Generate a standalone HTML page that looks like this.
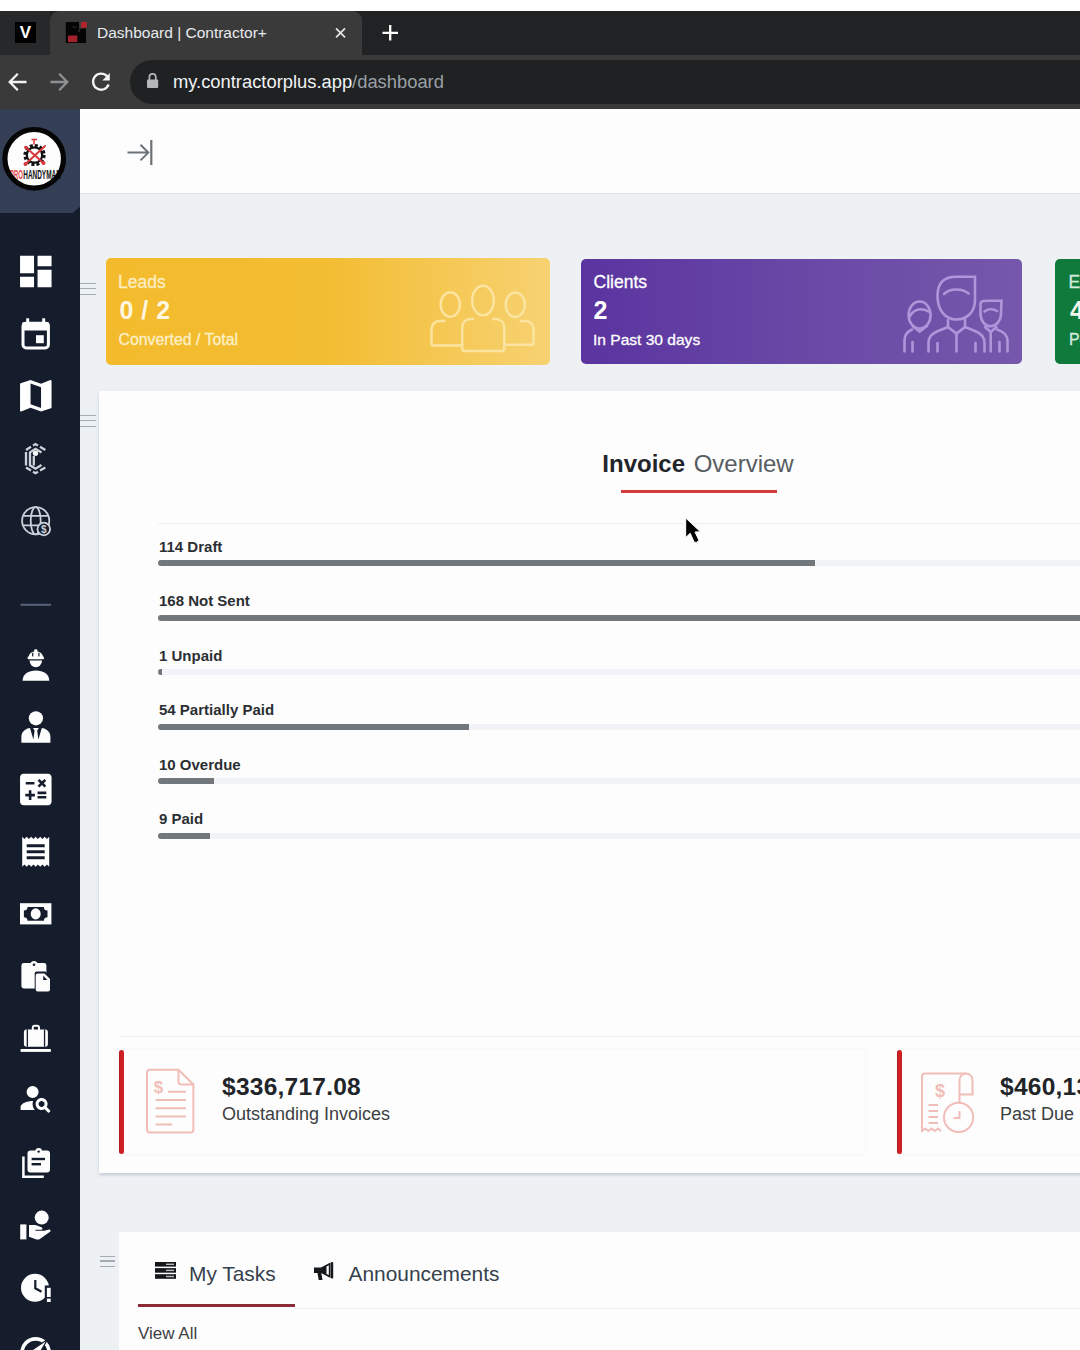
<!DOCTYPE html>
<html>
<head>
<meta charset="utf-8">
<title>Dashboard | Contractor+</title>
<style>
*{box-sizing:border-box;margin:0;padding:0}
html,body{width:1080px;height:1350px;overflow:hidden;background:#fff;font-family:"Liberation Sans",sans-serif;}
#root{position:relative;width:1080px;height:1350px;overflow:hidden;background:#fff}
.abs{position:absolute}
/* browser chrome */
#tabbar{left:0;top:10.500px;width:1080px;height:44.500px;background:#202223}
#vtab{left:0;top:10.500px;width:50px;height:44.500px;background:#27282a}
#vbox{left:15px;top:22px;width:21px;height:21px;background:#000;color:#fff;font-weight:bold;font-size:17px;line-height:21px;text-align:center}
#tab{left:50px;top:11px;width:312px;height:44px;background:#3a3a3b;border-radius:9px 9px 0 0}
#toolbar{left:0;top:55px;width:1080px;height:54.500px;background:#3a3a3b}
#omni{left:130px;top:60px;width:1000px;height:44px;background:#1f2122;border-radius:22px}
#tabtitle{left:97px;top:21.500px;font-size:15.5px;line-height:21px;color:#e8eaed;white-space:nowrap}
#url{left:173px;top:70px;font-size:18.350px;line-height:24px;color:#f1f3f4;white-space:nowrap}
#url span{color:#9aa0a6}
/* app */
#side{left:0;top:109px;width:80px;height:1241px;background:#151d2d}
#logoblk{left:0;top:109px;width:80px;height:104px;background:#343f56;clip-path:polygon(0 0,100% 0,100% 94%,91% 100%,0 100%)}
#header{left:80px;top:109px;width:1000px;height:85px;background:#fdfdfd;border-bottom:1px solid #dfe5ea}
#content{left:80px;top:194px;width:1000px;height:1156px;background:#eef1f4}
.card{border-radius:5px;color:#fff}
#leads div{margin-top:.700px}#leads .ct{color:#fdeec2}#leads .cn{color:#fff7e0}#leads .cs{color:#fdf0c8}
#leads{left:106px;top:258.300px;width:443.500px;height:106.400px;background:linear-gradient(90deg,#f3bb2c 0%,#f3bd33 50%,#f7d272 100%)}
#clients{left:581px;top:259px;width:441px;height:105px;background:linear-gradient(90deg,#5b34a0 0%,#6a4aa6 55%,#7558ab 100%)}
#green{left:1055px;top:259px;width:60px;height:104.500px;background:#0f7a3b}
#green div{margin-left:1.500px}#green .ct,#green .cs{color:#d4ecdf}#green .cn{color:#f3f6ea}
.ct,.cs{-webkit-text-stroke:.3px currentColor}
.ct{position:absolute;left:12px;top:13px;font-size:17.5px;line-height:20px;white-space:nowrap}
.cn{position:absolute;left:13.500px;top:37px;font-size:25px;word-spacing:1px;line-height:28px;font-weight:bold;white-space:nowrap}
.cs{position:absolute;left:12.500px;top:72px;font-size:15.850px;line-height:18px;white-space:nowrap}
#panel{left:98.500px;top:390.700px;width:1000px;height:782.300px;background:#fdfdfd;box-shadow:0 2px 3px rgba(150,150,175,.45)}
#ptitle{left:602.300px;top:448px;font-size:24px;word-spacing:2px;line-height:32px;color:#575c62;white-space:nowrap}
#ptitle b{color:#212529}
#pline{left:621px;top:490px;width:156px;height:3px;background:#d63a3d}
.lbl{position:absolute;left:159px;font-size:15px;line-height:18px;font-weight:bold;color:#2b2f33;white-space:nowrap}
.track{position:absolute;left:158px;width:940px;height:6px;background:#f1f3f6;border-radius:3px}
.bar{position:absolute;left:158px;height:6px;background:#72777c;border-radius:3px 0 0 3px}
.stat{background:#fdfdfd;border-radius:4px;box-shadow:0 0 3px rgba(150,160,175,.18)}
.stat:before{content:"";position:absolute;left:-.500px;top:0;width:5.500px;height:100%;border-radius:3px;background:linear-gradient(90deg,#a81e22 0,#cf2023 35%,#cf2023 100%)}
.amt{position:absolute;letter-spacing:.25px;font-size:24.5px;line-height:28px;font-weight:bold;color:#212529;white-space:nowrap}
.sub{position:absolute;font-size:18px;line-height:20px;color:#3c4043;white-space:nowrap}
#tasks{left:119px;top:1232px;width:1000px;height:130px;background:#fdfdfd}
.tabt{position:absolute;font-size:20.9px;line-height:24px;color:#35414c;white-space:nowrap}
.grip{position:absolute;width:15.500px;height:11.500px;border-top:1.500px solid #a4abb4;border-bottom:1.500px solid #a4abb4}
.grip:after{content:"";position:absolute;left:0;top:3.500px;width:15.500px;height:1.500px;background:#a4abb4}
</style>
</head>
<body>
<div id="root">
  <!-- browser chrome -->
  <div id="tabbar" class="abs"></div>
  <div id="vtab" class="abs"></div>
  <div id="vbox" class="abs">V</div>
  <div id="tab" class="abs"></div>
  <div id="toolbar" class="abs"></div>
  <div id="omni" class="abs"></div>
  <div id="tabtitle" class="abs">Dashboard | Contractor+</div>
  <div id="url" class="abs">my.contractorplus.app<span>/dashboard</span></div>

<svg id="chromeicons" class="abs" style="left:0;top:0" width="1080" height="110" viewBox="0 0 1080 110">
<!-- favicon -->
<path d="M65.800 22 H79 V28.400 H86 V42.900 H65.800z" fill="#050505"/>
<rect x="68" y="35.500" width="9.300" height="6.600" fill="#a3222b"/>
<rect x="81.200" y="22" width="5.500" height="5.700" fill="#b8232c"/>
<path d="M72.500 26.500 q2 2 4 0" stroke="#333" stroke-width="1" fill="none"/>
<path d="M80 22 v7 l-1.500 3" stroke="#4a3f3f" stroke-width="1" fill="none"/>
<!-- close -->
<path d="M336 28.300 l9 9 M345 28.300 l-9 9" stroke="#e4e6e8" stroke-width="1.700"/>
<!-- plus -->
<path d="M382.500 32.800 h15.500 M390.200 25 v15.500" stroke="#fff" stroke-width="2.300"/>
<!-- back -->
<path d="M26.500 82 H10.500 M17.800 73.800 L9.700 82 L17.800 90.200" stroke="#f1f3f4" stroke-width="2.300" fill="none" stroke-linejoin="miter"/>
<!-- forward -->
<path d="M50.500 82 H66.500 M59.200 73.800 L67.300 82 L59.200 90.200" stroke="#8e9194" stroke-width="2.300" fill="none"/>
<!-- reload -->
<path d="M107.200 76.500 A8 8 0 1 0 108.600 84.500" stroke="#f1f3f4" stroke-width="2.300" fill="none"/>
<path d="M109.800 73 v7.500 h-7.500z" fill="#f1f3f4"/>
<!-- lock -->
<path d="M149.400 80 v-3 a3.200 3.200 0 0 1 6.400 0 v3" stroke="#b4b7ba" stroke-width="1.700" fill="none"/>
<rect x="147" y="79.500" width="11.200" height="8.500" rx="1" fill="#b4b7ba"/>
</svg>
  <!-- app -->
  <div id="content" class="abs"></div>
  <div id="header" class="abs"></div>
  <div id="side" class="abs"></div>
  <div id="logoblk" class="abs"></div>

<svg id="sideicons" class="abs" style="left:0;top:0" width="80" height="1350" viewBox="0 0 80 1350">
<circle cx="34.200" cy="158.800" r="29.300" fill="#fdfdfd"/>
<circle cx="34.500" cy="155" r="9.300" fill="none" stroke="#111" stroke-width="3.600" stroke-dasharray="2.900 1.970"/>
<circle cx="34.500" cy="155" r="7.700" fill="none" stroke="#111" stroke-width="2.200"/>
<path d="M25.500 147 L44 163.500 M45 146 L25 164.500" stroke="#d8383c" stroke-width="2" stroke-linecap="round"/>
<circle cx="25.500" cy="164" r="2" fill="#d8383c"/><circle cx="43.500" cy="163" r="2" fill="#d8383c"/><circle cx="26" cy="147.500" r="1.800" fill="#d8383c"/>
<path d="M34 139.500v5 M31.500 139.500h5.500" stroke="#d8383c" stroke-width="1.500"/>
<text x="10" y="178.600" font-family="Liberation Sans" font-weight="bold" font-size="12.500" textLength="13" lengthAdjust="spacingAndGlyphs" fill="#e2484e">PRO</text>
<text x="23.300" y="178.800" font-family="Liberation Sans" font-weight="bold" font-size="13.500" textLength="37.500" lengthAdjust="spacingAndGlyphs" fill="#111">HANDYMAN</text>
<circle cx="34.200" cy="158.800" r="29.300" fill="none" stroke="#050505" stroke-width="5.200"/>
<g transform="translate(14.8,250.6) scale(1.75)" fill="#fff" ><path d="M3 13h8V3H3v10zm0 8h8v-6H3v6zm10 0h8V11h-8v10zm0-18v6h8V3h-8z"/></g>
<rect x="23" y="323.2" width="25.4" height="24.8" rx="3.2" fill="none" stroke="#fdfdfd" stroke-width="3"/>
<rect x="22" y="322" width="27.4" height="8.5" rx="2" fill="#fdfdfd"/>
<rect x="26.2" y="318.3" width="3" height="6" fill="#fdfdfd"/><rect x="42.2" y="318.3" width="3" height="6" fill="#fdfdfd"/>
<rect x="36" y="335.2" width="7.8" height="8" fill="#fdfdfd"/>
<g transform="translate(14.8,374.8) scale(1.75)" fill="#fff" ><path d="M20.5 3l-.16.03L15 5.1 9 3 3.36 4.9c-.21.07-.36.25-.36.48V20.5c0 .28.22.5.5.5l.16-.03L9 18.9l6 2.1 5.64-1.9c.21-.07.36-.25.36-.48V3.500c0-.28-.22-.5-.5-.5zM15 19l-6-2.11V5l6 2.11V19z"/></g>
<g fill="none" stroke="#ccd3da" stroke-width="2.300" stroke-linecap="butt">
<path d="M45.3 450 L40 446.8 M38 445.6 L35.5 444 L33 445.6 M31 446.8 L26 450 M26 452 L26 465.5 M26 467.5 L31 470.6 M33 471.8 L35.5 473.2 L38 471.8 M40 470.6 L45.3 467.5"/>
<path d="M41.5 452.5 L35.5 448.8 L30 452.3 L30 465.3 L35.5 468.7 L41.5 465"/>
<path d="M33.8 456 L33.8 465.5"/>
</g><circle cx="35.5" cy="453.3" r="2.7" fill="#f4f6f8"/>
<g fill="none" stroke="#c9d1d9" stroke-width="1.8">
<circle cx="35.7" cy="520.7" r="13.6"/><ellipse cx="35.7" cy="520.7" rx="5" ry="13.6"/>
<path d="M23.5 515.8h24.4 M23.5 525.4h24.4"/>
</g><circle cx="43.8" cy="529" r="6.3" fill="#151d2d" stroke="#c9d1d9" stroke-width="1.8"/>
<text x="43.8" y="532.6" text-anchor="middle" font-family="Liberation Sans" font-weight="bold" font-size="10" fill="#c9d1d9">$</text>
<rect x="20.5" y="603.8" width="30.5" height="2" fill="#59627a"/>
<path d="M28.500 657.600 a7.300 6.400 0 0 1 14.600 0 z" fill="#fdfdfd"/>
<rect x="32.100" y="652.800" width="1.200" height="4" fill="#151d2d"/><rect x="38.300" y="652.800" width="1.200" height="4" fill="#151d2d"/>
<rect x="34.200" y="649.300" width="3.200" height="7" rx="1.200" fill="#fdfdfd"/>
<rect x="27.6" y="656.6" width="16.4" height="2.6" rx="1" fill="#fdfdfd"/>
<path d="M29.6 660.6 h12.4 a6.2 6.6 0 0 1 -12.4 0z" fill="#fdfdfd"/>
<path d="M22.6 680.8 c0 -7 6 -10.4 13.3 -10.4 s13.4 3.400 13.400 10.400z" fill="#fdfdfd"/>
<circle cx="35.9" cy="718.3" r="7.1" fill="#fdfdfd"/>
<path d="M21.400 742.8 v-6 c0 -5 4 -8.400 9 -8.800 l5.500 0 l5.500 0 c5 .4 9 3.800 9 8.800 v6z" fill="#fdfdfd"/>
<path d="M30 728 l3.400 11.500 l1.200 -9 l-1.600 -2.500z M41.800 728 l-3.400 11.500 l-1.200 -9 l1.600 -2.500z" fill="#151d2d"/>
<g transform="translate(14.8,768.4) scale(1.75)" fill="#fff" ><path d="M19 3H5c-1.1 0-2 .9-2 2v14c0 1.100.9 2 2 2h14c1.100 0 2-.9 2-2V5c0-1.100-.9-2-2-2zm-5.970 4.060L14.090 6l1.410 1.410L16.910 6l1.060 1.060-1.410 1.410 1.410 1.410-1.060 1.060-1.410-1.400-1.410 1.410-1.060-1.060 1.410-1.410-1.410-1.420zm-6.780.66h5v1.500h-5v-1.500zM11.500 16h-2v2H8v-2H6v-1.500h2v-2h1.500v2h2V16zm6.500 1.250h-5v-1.500h5v1.500zm0-2.500h-5v-1.500h5v1.500z"/></g>
<g transform="translate(17.7,833.8) scale(1.5)" fill="#fff" ><path d="M18 17H6v-2h12v2zm0-4H6v-2h12v2zm0-4H6V7h12v2zM3 22l1.500-1.500L6 22l1.500-1.500L9 22l1.500-1.500L12 22l1.500-1.500L15 22l1.500-1.500L18 22l1.500-1.500L21 22V2l-1.500 1.500L18 2l-1.500 1.500L15 2l-1.500 1.500L12 2l-1.500 1.500L9 2 7.500 3.500 6 2 4.500 3.500 3 2v20z"/></g>
<rect x="20" y="903.2" width="31.400" height="21.200" fill="#fdfdfd"/>
<path d="M27.500 907 h16.400 a3.600 3.600 0 0 0 3.600 3.600 v6.600 a3.600 3.600 0 0 0 -3.600 3.600 h-16.400 a3.600 3.600 0 0 0 -3.600 -3.600 v-6.600 a3.600 3.600 0 0 0 3.600 -3.600z" fill="#151d2d"/>
<ellipse cx="35.700" cy="913.9" rx="5" ry="5.600" fill="#fdfdfd"/>
<rect x="21.400" y="963" width="25" height="25.400" rx="2.400" fill="#fdfdfd"/>
<circle cx="34" cy="964.500" r="3.600" fill="#fdfdfd"/><circle cx="34" cy="964.800" r="1.300" fill="#151d2d"/>
<path d="M36.700 971.600 h8.800 l6.500 6.500 v13.500 a2 2 0 0 1 -2 2 h-13.300 a2 2 0 0 1 -2 -2 v-18 a2 2 0 0 1 2 -2z" fill="#151d2d"/>
<path d="M37.700 973.600 h6.800 l5.500 5.500 v10.500 a2 2 0 0 1 -2 2 h-10.300 a2 2 0 0 1 -2 -2 v-14 a2 2 0 0 1 2 -2z" fill="#fdfdfd"/>
<path d="M43.200 975.800 v4.200 h4.200z" fill="#151d2d"/>
<path d="M32.800 1030 v-2.300 a2 2 0 0 1 2 -2 h2.200 a2 2 0 0 1 2 2 v2.300" fill="none" stroke="#fdfdfd" stroke-width="2"/>
<rect x="23.900" y="1029.500" width="24" height="17.200" rx="2.600" fill="#fdfdfd"/>
<rect x="26.700" y="1029.500" width="1.300" height="17.200" fill="#151d2d"/><rect x="43.900" y="1029.500" width="1.300" height="17.200" fill="#151d2d"/>
<rect x="20.600" y="1049" width="30.200" height="2.900" fill="#fdfdfd"/>
<g transform="translate(17.6,1080) scale(1.5)" fill="#fff" ><path d="M10 8m-4 0a4 4 0 1 0 8 0a4 4 0 1 0-8 0 M10.350 14.010C7.620 13.910 2 15.270 2 18v2h9.540c-2.470-2.760-1.230-5.890-1.190-5.990z M19.430 18.020c.36-.59.570-1.280.570-2.020 0-2.210-1.790-4-4-4s-4 1.790-4 4 1.790 4 4 4c.74 0 1.430-.22 2.020-.57L20.590 22 22 20.590l-2.570-2.570zM16 18c-1.100 0-2-.9-2-2s.9-2 2-2 2 .9 2 2-.9 2-2 2z"/></g>
<rect x="27.500" y="1150.400" width="22.500" height="22" rx="3" fill="#fdfdfd"/>
<circle cx="38.700" cy="1151.200" r="3.300" fill="#fdfdfd"/><circle cx="38.700" cy="1151.600" r="1.200" fill="#151d2d"/>
<rect x="31.600" y="1157.800" width="13.400" height="2.400" fill="#151d2d"/><rect x="31.600" y="1163" width="9.400" height="2.400" fill="#151d2d"/>
<path d="M23.400 1156.500 V1176.800 H43.800" fill="none" stroke="#fdfdfd" stroke-width="2.500"/>
<circle cx="41.700" cy="1217.600" r="7" fill="#fdfdfd"/>
<rect x="20.200" y="1224.400" width="6.200" height="15" fill="#fdfdfd"/>
<path d="M29 1225 h6.500 l6 2.200 c1.500 .6 1.200 2.600 -.4 2.600 h-5.600 l0 1 l9 0 l4.500 -1.300 c1.600 -.2 2.200 1.500 1 2.300 l-10.500 7.400 c-1 .5 -2 .5 -3 .2 l-7.500 -2.600z" fill="#fdfdfd"/>
<circle cx="35" cy="1287.800" r="14" fill="#fdfdfd"/>
<path d="M35.300 1280 v8.300 l6.200 3.500" fill="none" stroke="#151d2d" stroke-width="2.200"/>
<rect x="44.800" y="1285.500" width="8" height="18" fill="#151d2d"/>
<rect x="46.900" y="1287.800" width="3.800" height="9.200" fill="#fdfdfd"/><rect x="46.900" y="1298.600" width="3.800" height="3.400" fill="#fdfdfd"/>
<circle cx="35.600" cy="1352.500" r="13.600" fill="none" stroke="#fdfdfd" stroke-width="3.600"/>
<path d="M47.500 1339.500 L29 1352 L38 1356z" fill="#fdfdfd" stroke="#151d2d" stroke-width="1.200"/>
</svg>
  <div id="leads" class="abs card"><div class="ct">Leads</div><div class="cn">0 / 2</div><div class="cs">Converted / Total</div></div>
  <div id="clients" class="abs card"><div class="ct" style="left:12.500px">Clients</div><div class="cn" style="left:12.500px">2</div><div class="cs" style="font-size:15.550px;left:12px">In Past 30 days</div></div>
  <div id="green" class="abs card"><div class="ct">Es</div><div class="cn">4</div><div class="cs">Pe</div></div>

  <div id="panel" class="abs"></div>
  <div id="ptitle" class="abs"><b>Invoice</b> Overview</div>
  <div id="pline" class="abs"></div>

  <div id="tasks" class="abs"></div>
  <div id="sep1" class="abs" style="left:158px;top:523px;width:940px;height:1px;background:#edf0f3"></div>
  <div class="lbl" style="top:537.5px">114 Draft</div>
  <div class="track" style="top:560.0px"></div>
  <div class="bar" style="top:560.0px;width:657px"></div>
  <div class="lbl" style="top:592.0px">168 Not Sent</div>
  <div class="track" style="top:614.5px"></div>
  <div class="bar" style="top:614.5px;width:940px"></div>
  <div class="lbl" style="top:646.5px">1 Unpaid</div>
  <div class="track" style="top:669.0px"></div>
  <div class="bar" style="top:669.0px;width:4px"></div>
  <div class="lbl" style="top:701.0px">54 Partially Paid</div>
  <div class="track" style="top:723.5px"></div>
  <div class="bar" style="top:723.5px;width:311px"></div>
  <div class="lbl" style="top:755.5px">10 Overdue</div>
  <div class="track" style="top:778.0px"></div>
  <div class="bar" style="top:778.0px;width:56px"></div>
  <div class="lbl" style="top:810.0px">9 Paid</div>
  <div class="track" style="top:832.5px"></div>
  <div class="bar" style="top:832.5px;width:52px"></div>
  <div id="sep2" class="abs" style="left:119px;top:1036px;width:980px;height:1px;background:#edf0f3"></div>
  <div id="stat1" class="abs stat" style="left:119px;top:1050px;width:746px;height:104px"></div>
  <div id="stat2" class="abs stat" style="left:897px;top:1050px;width:300px;height:104px"></div>
  <div class="amt" style="left:222px;top:1072.500px">$336,717.08</div>
  <div class="sub" style="left:222px;top:1104px">Outstanding Invoices</div>
  <div class="amt" style="left:1000px;top:1072.500px">$460,138.55</div>
  <div class="sub" style="left:1000px;top:1104px">Past Due Invoices</div>

  <div class="tabt" style="left:189px;top:1261.500px">My Tasks</div>
  <div class="tabt" style="left:348.500px;top:1261.500px">Announcements</div>
  <div id="tline" class="abs" style="left:138px;top:1304px;width:156.500px;height:3px;background:#8c2a36"></div>
  <div id="tsep" class="abs" style="left:294px;top:1308px;width:800px;height:1px;background:#eef0f3"></div>
  <div class="sub" style="left:138px;top:1324px;font-size:17px">View All</div>
  <div class="grip" style="left:80px;top:283px"></div>
  <div class="grip" style="left:80px;top:415px"></div>
  <div class="grip" style="left:99.500px;top:1255.500px"></div>
<svg id="mainicons" class="abs" style="left:0;top:0" width="1080" height="1350" viewBox="0 0 1080 1350">
<!-- header arrow -->
<path d="M127.500 152.600 H148 M140.500 144.800 L148.300 152.600 L140.500 160.400" stroke="#6b7278" stroke-width="2" fill="none"/>
<rect x="150.200" y="140" width="2.200" height="25" fill="#6b7278"/>
<!-- leads icon -->
<g fill="none" stroke="#fbe4a0" stroke-width="2.500">
<ellipse cx="450.300" cy="304.500" rx="9.600" ry="12.300"/>
<ellipse cx="483" cy="300.500" rx="10.800" ry="14.800"/>
<ellipse cx="515.300" cy="304.800" rx="9.600" ry="12.300"/>
<path d="M462 345.400 H433.500 a2 2 0 0 1 -2 -2 V329 a8 8 0 0 1 8 -8 h6"/>
<path d="M504.500 344.700 H531.600 a2 2 0 0 0 2 -2 V329 a8 8 0 0 0 -8 -8 h-6"/>
<path d="M474.200 319 h-4 a8 8 0 0 0 -8 8 V349 a2 2 0 0 0 2 2 H502.300 a2 2 0 0 0 2 -2 V327 a8 8 0 0 0 -8 -8 h-4.300"/>
</g>
<!-- clients icon -->
<g fill="none" stroke="#ae96da" stroke-width="2.600" stroke-linecap="round">
<path d="M937.500 296 C937.500 282 945 276.700 956 276.700 L975 276.700 L975 300 C975 312 967 319.500 956.500 319.500 C946 319.500 937.500 311 937.500 296z"/>
<path d="M944 294 C950 288 962 288 968.500 293.500"/>
<path d="M948 320 L948 327 L956.500 333.500 L965 327 L965 320"/>
<path d="M948 327 L938 331 C931.500 333.500 928.500 337.500 928.500 343 V351.500 M965 327 L975 331 C981.500 333.500 984.500 337.500 984.500 343 V351.500"/>
<path d="M956.500 334 V351.500 M937.500 343 V351.500 M975.500 343 V351.500"/>
<ellipse cx="919.600" cy="315" rx="11" ry="13.500"/>
<path d="M910 316 C914 309 922 307 929.500 312"/>
<path d="M912.500 326 L919.600 331.500 L927 326"/>
<path d="M912 329.500 C907 332 904.500 335 904.500 340 V351.500 M912.500 342 V351.500 M927.500 330"/>
<path d="M980.500 305 C980.500 300.500 983 300.800 989 300.800 L1001.500 300.800 L1001 313 C1001 321 996 326.300 990.500 326.300 C985 326.300 980.500 321 980.500 313z"/>
<path d="M984.500 311.500 C988 308.500 993 308.500 997 311"/>
<path d="M985 327 L990.700 332 L996.500 327"/>
<path d="M997 329.500 C1003.500 331.500 1007.500 335 1007.500 341 V351.500 M990.700 332.500 V351.500 M999.500 342 V351.500"/>
</g>
<!-- doc icon -->
<g fill="none" stroke="#f1bdb8" stroke-width="2">
<path d="M178.500 1069.700 H150 a3 3 0 0 0 -3 3 V1129.500 a3 3 0 0 0 3 3 H190.400 a3 3 0 0 0 3 -3 V1084.500 z"/>
<path d="M178.500 1069.700 V1081.500 a3 3 0 0 0 3 3 H193.400" />
<path d="M168 1091.700 H186 M155.500 1100 H186 M155.500 1108.300 H186 M155.500 1116.500 H186 M155.500 1124.600 H172"/>
</g>
<text x="158.500" y="1092.500" text-anchor="middle" font-family="Liberation Sans" font-size="17" font-weight="bold" fill="#f1bdb8">$</text>
<!-- past due icon -->
<g fill="none" stroke="#f1bdb8" stroke-width="2">
<path d="M966 1073.500 H925 a3 3 0 0 0 -3 3 V1131 l3.200 -2.500 l3.200 2.500 l3.200 -2.500 l3.200 2.500 l3.200 -2.500 l3.200 2.500"/>
<path d="M959.500 1094.500 V1080 a6.500 6.500 0 0 1 13 0 V1094.500 z"/>
<path d="M959.500 1094.500 V1102"/>
<circle cx="958.600" cy="1117.400" r="14.600"/>
<path d="M959.500 1111 V1118 H953.500"/>
<path d="M928.500 1105 H938 M928.500 1111 H938 M928.500 1117 H938 M928.500 1123 H938"/>
</g>
<text x="940" y="1096.500" text-anchor="middle" font-family="Liberation Sans" font-size="18" font-weight="bold" fill="#f1bdb8">$</text>
<!-- tasks icon -->
<rect x="155" y="1262" width="21" height="4.600" fill="#15181b"/><rect x="155" y="1268.100" width="21" height="4.600" fill="#15181b"/><rect x="155" y="1274.200" width="21" height="4.600" fill="#15181b"/>
<rect x="166" y="1263.600" width="8" height="1.400" fill="#bbb"/><rect x="166" y="1269.700" width="8" height="1.400" fill="#bbb"/><rect x="166" y="1275.800" width="8" height="1.400" fill="#bbb"/>
<!-- megaphone -->
<path d="M314 1267.500 h7 l9.500 -5 v15.500 l-9.500 -5 h-7z" fill="#15181b"/>
<path d="M317.500 1273 h3.800 l1.200 7 h-3.800z" fill="#15181b"/>
<path d="M326.500 1266.500 l2.300 -1.200 v9.800 l-2.300 -1.200z" fill="#fdfdfd"/>
<rect x="330.800" y="1262" width="2.400" height="16.500" rx="1" fill="#15181b"/>
<!-- cursor -->
<path d="M685.700 518 V537.600 L690.200 533.200 L694.200 542.200 Q696.500 543.300 699 540.400 L695 532 L700.400 531.800 Z" fill="#000" stroke="#fff" stroke-width="1" stroke-linejoin="round"/>
</svg>
</div>
</body>
</html>
